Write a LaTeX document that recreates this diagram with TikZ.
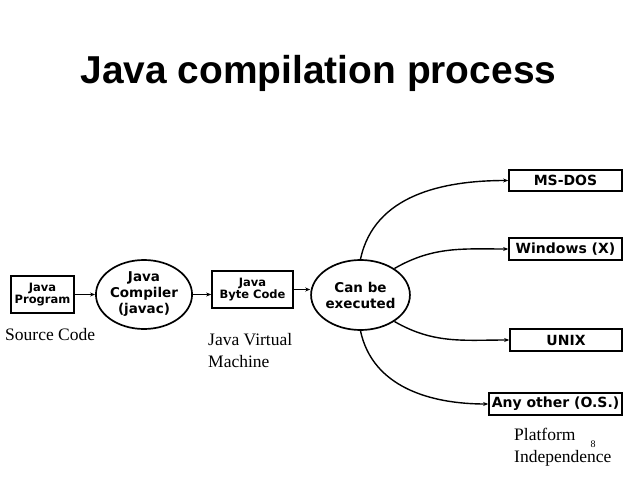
\documentclass[tikz,border=0pt]{standalone}
\usepackage{fontspec}
\setmainfont{Liberation Serif}
\newfontfamily\titlefont{Liberation Sans}
\newfontfamily\boxfont{DejaVu Sans}
\usetikzlibrary{shapes.geometric, arrows.meta, positioning}

\begin{document}
\begin{tikzpicture}[x=1pt, y=-1pt,
  box/.style={draw, line width=1.7pt, rectangle, inner sep=0pt, align=center, font=\boxfont\bfseries\fontsize{11.5}{12}\selectfont},
  oval/.style={draw, line width=1.7pt, ellipse, inner sep=0pt, align=center, font=\boxfont\bfseries\fontsize{13.5}{16}\selectfont},
  osbox/.style={box, minimum height=22pt, font=\boxfont\bfseries\fontsize{14}{15}\selectfont},
  link/.style={-{Stealth[length=5pt,width=4pt]}, line width=1.4pt},
  note/.style={anchor=base west, align=left, inner sep=0pt, font=\fontsize{17.5}{21.5}\selectfont}]
\useasboundingbox (0,0) rectangle (638,479);

\node[anchor=base, inner sep=0pt, font=\titlefont\bfseries\fontsize{38.9}{44}\selectfont] (title) at (318.5,83) {Java compilation process};

% main chain
\node[box, minimum width=63pt, minimum height=37pt] (prog) at (42.5,294.5) {Java\\Program};
\node[oval, minimum width=96pt, minimum height=69pt] (comp) at (144,294.5) {Java\\Compiler\\(javac)};
\node[box, minimum width=81pt, minimum height=37pt] (byte) at (252.5,289.5) {Java\\Byte Code};
\node[oval, minimum width=95pt, minimum height=70pt] (exec) at (360.5,295) {Can be\\executed};

% platforms
\node[osbox, minimum width=113pt, minimum height=21pt] (dos) at (565.5,180.5) {MS-DOS};
\node[osbox, minimum width=113pt] (win) at (565.5,249) {Windows (X)};
\node[osbox, minimum width=112pt] (unix) at (566,340) {UNIX};
\node[osbox, minimum width=133pt] (other) at (555.5,404) {Any other (O.S.)};

\draw[link] (prog.east) -- (comp.west);
\draw[link] (comp.east) -- (comp.east -| byte.west);
\draw[link] (byte.east) -- (byte.east -| exec.west);

\draw[link] (exec.north) to[out=78, in=180] (dos.west);
\draw[link] (exec.38) to[out=30, in=180] (win.west);
\draw[link] (exec.-38) to[out=-30, in=180] (unix.west);
\draw[link] (exec.south) to[out=-78, in=180] (other.west);

% labels
\node[note] (src) at (5,340) {Source Code};
\node[note] (jvm) at (208,367) {Java Virtual\\Machine};
\node[note] (plat) at (514,462) {Platform\\Independence};
\node[anchor=base, inner sep=0pt, font=\fontsize{10}{12}\selectfont] (page) at (593,447) {8};
\end{tikzpicture}
\end{document}
